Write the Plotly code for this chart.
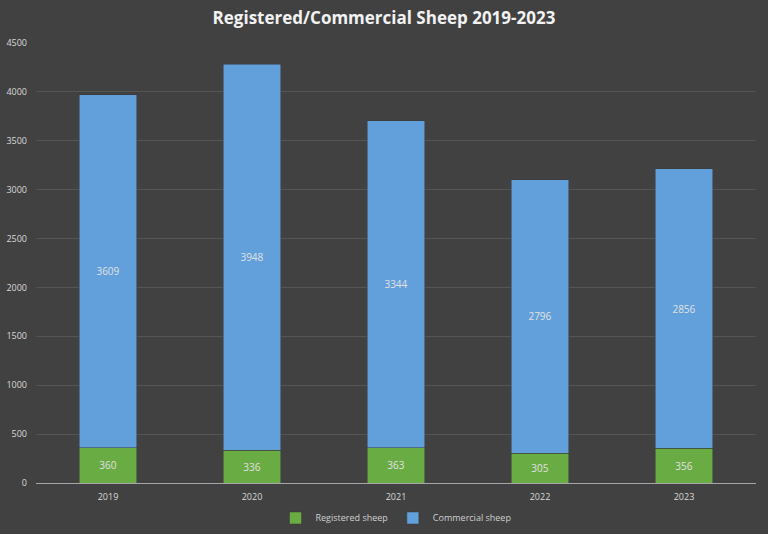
import plotly.graph_objects as go

years = ["2019", "2020", "2021", "2022", "2023"]
registered = [360, 336, 363, 305, 356]
commercial = [3609, 3948, 3344, 2796, 2856]

fig = go.Figure()
fig.add_trace(go.Bar(
    x=years, y=registered, name="Registered sheep",
    marker=dict(color="#6aac44", line=dict(color="#3a3a3a", width=0.5)),
    text=[str(v) for v in registered], textposition="inside",
    insidetextanchor="middle",
    textfont=dict(color="#e0e0e0", size=10, family="Open Sans"),
))
fig.add_trace(go.Bar(
    x=years, y=commercial, name="Commercial sheep",
    marker=dict(color="#62a0dc", line=dict(color="#3a3a3a", width=0.5)),
    text=[str(v) for v in commercial], textposition="inside",
    insidetextanchor="middle",
    textfont=dict(color="#e0e0e0", size=10, family="Open Sans"),
))

fig.update_layout(
    barmode="stack",
    bargap=0.6,
    width=768, height=534,
    margin=dict(l=36, r=12, t=43, b=51, autoexpand=False),
    paper_bgcolor="#414141",
    plot_bgcolor="rgba(0,0,0,0)",
    title=dict(text="<b>Registered/Commercial Sheep 2019-2023</b>",
               x=0.5, xanchor="center", y=0.966, yanchor="middle",
               font=dict(size=17, color="#f2f2f2", family="Open Sans")),
    font=dict(family="Open Sans", color="#d9d9d9", size=10),
    uniformtext=dict(mode="show", minsize=9),
    legend=dict(orientation="h", x=0.5, xanchor="center", y=0.03, yanchor="middle",
                yref="container",
                font=dict(size=9, color="#d0d0d0"), bgcolor="rgba(0,0,0,0)",
                traceorder="normal", itemwidth=30),
    xaxis=dict(showgrid=False, tickfont=dict(size=9, color="#d9d9d9"),
               showline=True, linecolor="#a6a6a6", linewidth=1, ticks="",
               ticklabelstandoff=5, automargin=False),
    yaxis=dict(range=[0, 4500], dtick=500, showgrid=True, gridcolor="#555555",
               gridwidth=1, zeroline=False, tickfont=dict(size=9, color="#d9d9d9"),
               ticks="", ticklabelstandoff=8, automargin=False),
)

fig.write_html("out.html")
